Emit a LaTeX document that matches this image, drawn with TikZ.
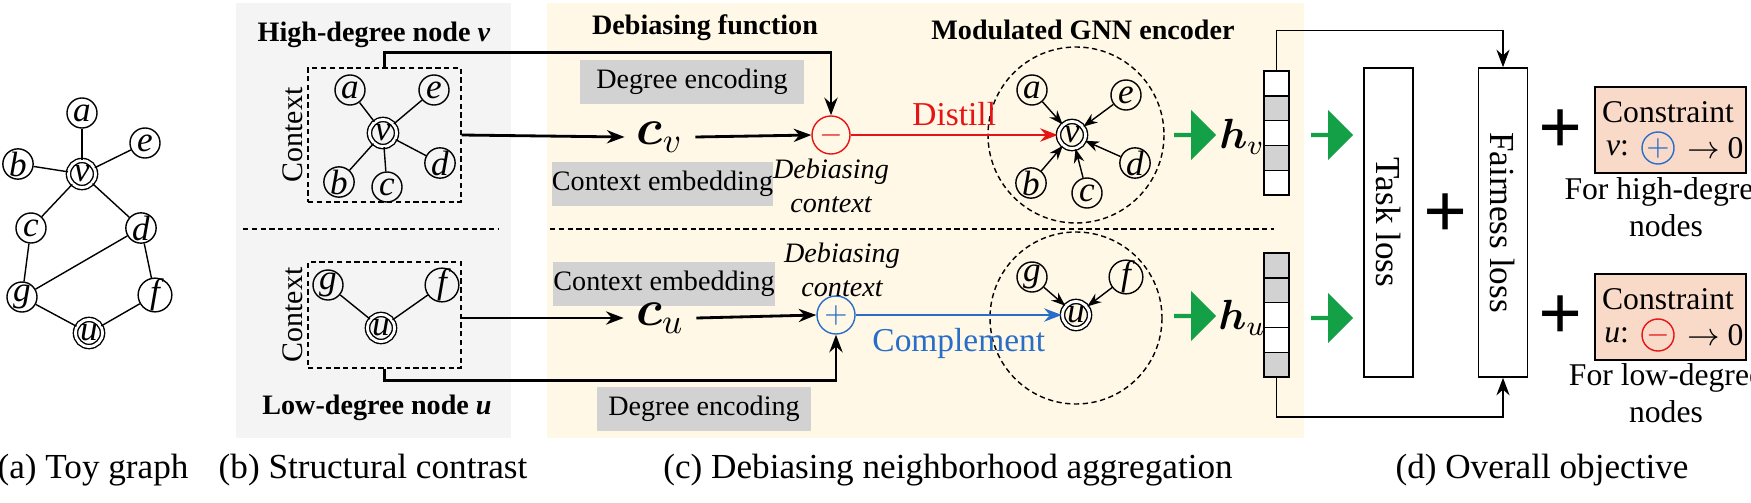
\documentclass[tikz,border=0pt]{standalone}
\usepackage{fontspec}
\setmainfont{Liberation Serif}
\usepackage{amsmath}
\usepackage{tikz}
\usetikzlibrary{positioning,arrows.meta,shapes.arrows}

\definecolor{panelgray}{RGB}{244,244,244}
\definecolor{panelyellow}{RGB}{255,248,230}
\definecolor{boxgray}{RGB}{210,210,210}
\definecolor{peach}{RGB}{249,218,200}
\definecolor{arrgreen}{RGB}{20,160,70}
\definecolor{distred}{RGB}{230,20,20}
\definecolor{compblue}{RGB}{40,110,200}

\tikzset{
  gnode/.style={circle, draw, thin, inner sep=0pt, minimum size=0.3cm, font=\fontsize{10}{10}\selectfont\itshape},
  cnode/.style={gnode, double, double distance=0.8pt, minimum size=0.27cm},
  edge/.style={thin},
  flow/.style={-{Stealth[length=5pt]}, thick},
  encbox/.style={rectangle, fill=boxgray, font=\fontsize{8}{9}\selectfont, inner sep=0pt},
  ctxbox/.style={rectangle, draw, thin, dash pattern=on 1.5pt off 1pt},
  fine dash/.style={thin, dash pattern=on 1.5pt off 1pt},
  title/.style={font=\fontsize{8}{9}\selectfont\bfseries},
  caption/.style={font=\fontsize{10}{11}\selectfont},
  opnode/.style={circle, draw, thin, minimum size=0.38cm, inner sep=0pt, font=\fontsize{8}{9}\selectfont},
  green arrow/.style={single arrow, fill=arrgreen, draw=none, minimum height=0.42cm, minimum width=0.5cm, single arrow head extend=0.08cm, inner sep=0pt},
  vcell/.style={rectangle, draw, thin, minimum width=0.25cm, minimum height=0.248cm, inner sep=0pt},
  lossbox/.style={rectangle, draw, thin, minimum width=0.49cm, minimum height=3.09cm},
  bigplus/.style={font=\fontsize{22}{22}\selectfont\bfseries},
  small/.style={font=\fontsize{8.5}{10}\selectfont}
}

\begin{document}
\begin{tikzpicture}[x=0.01cm, y=-0.01cm]
    \useasboundingbox (0,0) rectangle (1751,503);
    % Panels
    \fill[panelgray] (236,3) rectangle (511,438);
    \fill[panelyellow] (547,3) rectangle (1304,438);

    % (a) Toy graph
    \node (a) [gnode] at (82,113) {a};
    \node (e) [gnode] at (145,143) {e};
    \node (b) [gnode] at (18,164) {b};
    \node (v) [cnode] at (82,174) {v};
    \node (c) [gnode] at (31,228) {c};
    \node (d) [gnode] at (141,228) {d};
    \node (g) [gnode] at (22,297) {g};
    \node (f) [gnode] at (155,295) {f};
    \node (u) [cnode] at (89,333) {u};
    \foreach \s/\t in {a/v, b/v, e/v, v/c, v/d, c/g, d/g, d/f, g/u, f/u}
        \draw[edge] (\s) -- (\t);

    % (b) Structural contrast
    \node [title] at (374,35) {High-degree node \textit{v}};
    \node (ctxv) [ctxbox, minimum width=1.53cm, minimum height=1.34cm] at (384.5,135) {};
    \node [rotate=90, small] at (293,135) {Context};
    \node (sa) [gnode] at (350,90) {a};
    \node (se) [gnode] at (434,90) {e};
    \node (sv) [cnode] at (383,133) {v};
    \node (sd) [gnode] at (440,163) {d};
    \node (sb) [gnode] at (339,182) {b};
    \node (sc) [gnode] at (387,187) {c};
    \foreach \s in {sa, se, sd, sb, sc}
        \draw[edge] (\s) -- (sv);

    \node (ctxu) [ctxbox, minimum width=1.53cm, minimum height=1.06cm] at (384.5,315) {};
    \node [rotate=90, small] at (293,315) {Context};
    \node (sg) [gnode] at (328,285) {g};
    \node (sf) [gnode] at (442,285) {f};
    \node (su) [cnode] at (381,328) {u};
    \draw[edge] (sg) -- (su);
    \draw[edge] (sf) -- (su);
    \node [title] at (377,408) {Low-degree node \textit{u}};

    \draw[fine dash] (243,229) -- (498,229);
    \draw[fine dash] (550,229) -- (1274,229);

    % (c) Debiasing function
    \node [title] at (705,28) {Debiasing function};
    \node [title] at (1083,30) {Modulated GNN encoder};
    \node (degv) [encbox, minimum width=2.24cm, minimum height=0.44cm] at (692,82) {Degree encoding};
    \node (embv) [encbox, minimum width=2.19cm, minimum height=0.44cm] at (662.5,184) {Context embedding};
    \node (embu) [encbox, minimum width=2.2cm, minimum height=0.44cm] at (664,284) {Context embedding};
    \node (degu) [encbox, minimum width=2.14cm, minimum height=0.44cm] at (704,409) {Degree encoding};

    \node (cv) [font=\fontsize{14}{14}\selectfont] at (660,137) {$\boldsymbol{c}_v$};
    \node (cu) [font=\fontsize{14}{14}\selectfont] at (660,318) {$\boldsymbol{c}_u$};
    \node (minus) [opnode, draw=distred, text=distred] at (831,135) {$-$};
    \node (plus) [opnode, draw=compblue, text=compblue] at (836,315) {$+$};
    \node [align=center, font=\fontsize{8}{9.5}\selectfont\itshape] at (831,186) {Debiasing\\context};
    \node [align=center, font=\fontsize{8}{9.5}\selectfont\itshape] at (842,270) {Debiasing\\context};

    \draw[flow] (ctxv.east) -- (cv.west);
    \draw[flow] (cv.east) -- (minus.west);
    \draw[flow] (ctxu.east |- cu) -- (cu.west);
    \draw[flow] (cu.east) -- (plus.west);
    \draw[flow] (ctxv.north) -- ++(0,-15) -| (minus.north);
    \draw[flow] (ctxu.south) -- ++(0,12) -| (plus.south);

    % Modulated GNN encoder
    \draw[fine dash] (1076,135) circle[radius=88];
    \draw[fine dash] (1076,318) circle[radius=86];
    \node (mv) [cnode] at (1072,135) {v};
    \node (ma) [gnode] at (1032,90) {a};
    \node (me) [gnode] at (1126,95) {e};
    \node (md) [gnode] at (1135,163) {d};
    \node (mb) [gnode] at (1031,183) {b};
    \node (mc) [gnode] at (1087,193) {c};
    \foreach \s in {ma, me, md, mb, mc}
        \draw[-{Stealth[length=4pt]}, thin] (\s) -- (mv);
    \node (mu) [cnode] at (1076,315) {u};
    \node (mg) [gnode] at (1032,277) {g};
    \node (mf) [gnode] at (1126,277) {f};
    \draw[-{Stealth[length=4pt]}, thin] (mg) -- (mu);
    \draw[-{Stealth[length=4pt]}, thin] (mf) -- (mu);

    \draw[-{Stealth[length=5pt]}, thick, distred] (minus.east) -- (mv.west) node[midway, above=-1pt, font=\fontsize{9.5}{10}\selectfont] {Distill};
    \draw[-{Stealth[length=5pt]}, thick, compblue] (plus.east) -- (mu.west) node[midway, below=0pt, font=\fontsize{9.5}{10}\selectfont] {Complement};

    % Embeddings
    \node (gv1) [green arrow] at (1194,135) {};
    \node (gu1) [green arrow] at (1194,316) {};
    \node (hv) [font=\fontsize{12}{12}\selectfont] at (1242,137) {$\boldsymbol{h}_v$};
    \node (hu) [font=\fontsize{12}{12}\selectfont] at (1242,318) {$\boldsymbol{h}_u$};
    \foreach \i/\c in {0/white, 1/boxgray, 2/white, 3/boxgray, 4/white}
        \node (hv\i) [vcell, fill=\c] at (1276.5,83.5+24.8*\i) {};
    \foreach \i/\c in {0/boxgray, 1/boxgray, 2/white, 3/white, 4/boxgray}
        \node (hu\i) [vcell, fill=\c] at (1276.5,265.5+24.8*\i) {};
    \node (gv2) [green arrow] at (1331,135) {};
    \node (gu2) [green arrow] at (1331,318) {};

    % (d) Overall objective
    \node (task) [lossbox] at (1388.5,222.5) {};
    \node (fair) [lossbox] at (1503,222.5) {};
    \node [rotate=-90, font=\fontsize{10}{11}\selectfont] at (task) {Task loss};
    \node [rotate=-90, font=\fontsize{10}{11}\selectfont] at (fair) {Fairness loss};
    \node (plusmid) [bigplus] at (1446,216) {+};
    \draw[-{Stealth[length=5pt]}, thin] (hv0.north) -- ++(0,-40) -| (fair.north);
    \draw[-{Stealth[length=5pt]}, thin] (hu4.south) -- ++(0,39) -| (fair.south);

    \node (plusv) [bigplus] at (1561,132) {+};
    \node (plusu) [bigplus] at (1561,318) {+};
    \node (conv) [rectangle, draw, thin, fill=peach, minimum width=1.51cm, minimum height=0.86cm] at (1670.5,130) {};
    \node (conu) [rectangle, draw, thin, fill=peach, minimum width=1.51cm, minimum height=0.86cm] at (1670.5,317) {};
    \node [font=\fontsize{9}{10}\selectfont] at (1668,112) {Constraint};
    \node [font=\fontsize{9}{10}\selectfont] at (1668,299) {Constraint};
    \node (symv) [opnode, draw=compblue, text=compblue, minimum size=0.32cm] at (1658,148) {$+$};
    \node [font=\fontsize{9}{10}\selectfont, left=0pt of symv] {\textit{v}:};
    \node [font=\fontsize{9}{10}\selectfont, right=0pt of symv] {$\rightarrow$ 0};
    \node (symu) [opnode, draw=distred, text=distred, minimum size=0.32cm] at (1658,335) {$-$};
    \node [font=\fontsize{9}{10}\selectfont, left=0pt of symu] {\textit{u}:};
    \node [font=\fontsize{9}{10}\selectfont, right=0pt of symu] {$\rightarrow$ 0};
    \node [align=center, font=\fontsize{9}{10.5}\selectfont] at (1666,207) {For high-degree\\nodes};
    \node [align=center, font=\fontsize{9}{10.5}\selectfont] at (1666,393) {For low-degree\\nodes};

    % Captions
    \node [caption] at (93,470) {(a) Toy graph};
    \node [caption] at (373,470) {(b) Structural contrast};
    \node [caption] at (948,470) {(c) Debiasing neighborhood aggregation};
    \node [caption] at (1542,470) {(d) Overall objective};
\end{tikzpicture}
\end{document}
